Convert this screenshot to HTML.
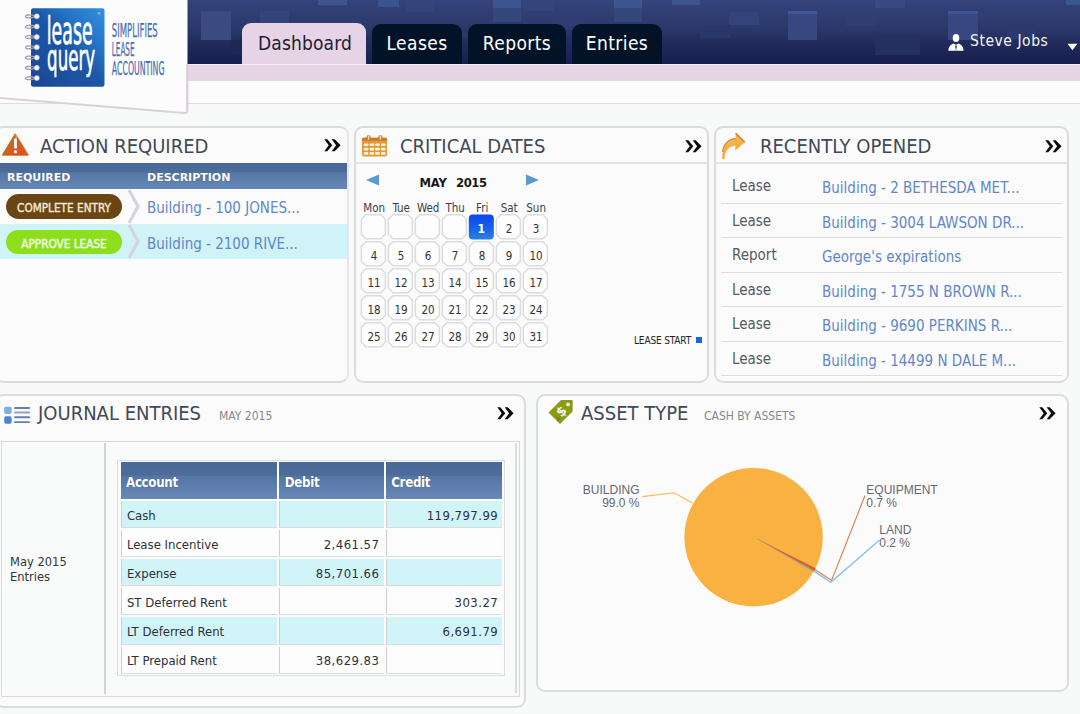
<!DOCTYPE html>
<html><head><meta charset="utf-8"><title>LeaseQuery Dashboard</title>
<style>
*{box-sizing:border-box;margin:0;padding:0}
html,body{width:1080px;height:714px;overflow:hidden}
body{position:relative;background:#f8f9f9;font-family:"DejaVu Sans Condensed","DejaVu Sans","Liberation Sans",sans-serif;color:#333}
.abs{position:absolute}
.hdr{position:absolute;left:0;top:0;width:1080px;height:64px;background:linear-gradient(#34437a 0%,#303e72 20%,#2b386b 45%,#222c5c 65%,#1b2454 85%,#161f4e 100%);overflow:hidden}
.hdr i{position:absolute;display:block}
.pink{position:absolute;left:0;top:64px;width:1080px;height:17px;background:#e6d4e6;border-top:1px solid #f4eef4}
.band{position:absolute;left:0;top:81px;width:1080px;height:22px;background:#fcfcfc}
.hline{position:absolute;left:0;top:103px;width:1080px;height:1px;background:#dedede}
.tab{position:absolute;top:24px;height:40px;border-radius:9px 9px 0 0;background:#021327;color:#fff;font-size:19px;letter-spacing:0.4px;line-height:1;text-align:center;padding-top:10px}
.tab.on{background:#e6d4e6;color:#1c2030;height:41px;top:23px;padding-top:11px}
.user{position:absolute;left:970px;top:34px;color:#f4f4f4;font-size:15.5px;letter-spacing:0.55px;line-height:1}
.panel{position:absolute;background:#fbfbfb;border:2px solid #dcdcdf;border-radius:9px}
.ptitle{position:absolute;font-size:20px;line-height:1;color:#414857;white-space:nowrap}
.more{position:absolute;font-family:"DejaVu Sans",sans-serif;font-weight:bold;font-size:19px;line-height:1;color:#000;letter-spacing:-3px}
.sep{position:absolute;height:2px;background:#e2e3e6}
.link{color:#6286ca}
.th{font-family:"DejaVu Sans",sans-serif;font-weight:bold;font-size:11px;line-height:1;color:#fff;text-shadow:0 0 1px rgba(40,50,80,.6)}
.pill{position:absolute;height:24.5px;border-radius:12.5px;font-size:11.7px;line-height:28.5px;text-align:center;white-space:nowrap;-webkit-text-stroke:0.35px currentColor}
.rlink{font-size:15px;line-height:1;white-space:nowrap}
.rtype{font-size:15px;line-height:1;color:#555a62;white-space:nowrap}
.dn{font-family:"DejaVu Sans Condensed",sans-serif;font-size:11.5px;fill:#3a3d48}
.dd{font-family:"DejaVu Sans Condensed",sans-serif;font-size:11.5px;fill:#333}
.dd1{font-family:"DejaVu Sans Condensed",sans-serif;font-size:12px;font-weight:bold;fill:#fff}
.jh{font-size:13.2px;font-weight:bold;color:#fff;line-height:1;letter-spacing:-0.3px;padding:14px 0 0 5.5px;background:linear-gradient(#4a6996 0%,#4c6c99 36%,#5677a6 38%,#5b7cab 60%,#6889b6 100%);text-shadow:0 0 1px rgba(40,50,80,.5)}
.jc{height:27.2px;font-size:13px;line-height:1;color:#2e3138;padding:7.5px 4.3px 0 5.4px;border-left:1.5px solid #cfcfcf;border-bottom:1.5px solid #dcdcdc;white-space:nowrap}
.sub{font-size:12px;line-height:1;color:#85888f;white-space:nowrap}
</style></head>
<body>
<!-- header -->
<div class="hdr"><i style="left:201px;top:11px;width:30px;height:29px;background:#3b4a80"></i><i style="left:260px;top:11px;width:29px;height:12px;background:#34447a"></i><i style="left:318px;top:0px;width:29px;height:5px;background:#3d5590"></i><i style="left:378px;top:0px;width:21px;height:7px;background:#3b5590"></i><i style="left:406px;top:0px;width:28px;height:12px;background:#34437a"></i><i style="left:493px;top:0px;width:28px;height:8px;background:#3a5590"></i><i style="left:493px;top:8px;width:28px;height:14px;background:#34467c"></i><i style="left:524px;top:0px;width:30px;height:11px;background:#35457c"></i><i style="left:614px;top:0px;width:28px;height:8px;background:#3a5590"></i><i style="left:614px;top:8px;width:28px;height:14px;background:#34467c"></i><i style="left:672px;top:0px;width:28px;height:5px;background:#3a5590"></i><i style="left:729px;top:12px;width:30px;height:13px;background:#34447a"></i><i style="left:788px;top:11px;width:29px;height:29px;background:#374880"></i><i style="left:788px;top:11px;width:29px;height:3px;background:#3e5896"></i><i style="left:875px;top:0px;width:30px;height:8px;background:#3a4a80"></i><i style="left:948px;top:11px;width:30px;height:29px;background:#374880"></i><i style="left:948px;top:11px;width:30px;height:3px;background:#3d5694"></i><i style="left:1066px;top:0px;width:14px;height:5px;background:#3a5590"></i><i style="left:875px;top:38px;width:45px;height:17px;background:#243060"></i><i style="left:231px;top:40px;width:30px;height:15px;background:#1e2858"></i><i style="left:700px;top:25px;width:30px;height:13px;background:#2a376a"></i><i style="left:846px;top:12px;width:29px;height:14px;background:#2f3d71"></i><i style="left:1007px;top:25px;width:29px;height:14px;background:#2b386b"></i><i style="left:555px;top:14px;width:30px;height:12px;background:#2f3d72"></i><i style="left:440px;top:25px;width:30px;height:12px;background:#2a3769"></i></div>
<div class="pink"></div>
<div class="band"></div>
<div class="hline"></div>

<div class="tab on" style="left:242px;width:124px;letter-spacing:0.15px;padding-left:2px">Dashboard</div>
<div class="tab" style="left:372px;width:90px">Leases</div>
<div class="tab" style="left:468px;width:98px">Reports</div>
<div class="tab" style="left:572px;width:90px">Entries</div>
<div class="user">Steve Jobs</div>
<!-- logo panel -->
<svg class="abs" style="left:0;top:0" width="192" height="118" viewBox="0 0 192 118">
  <path d="M0 0 L187.5 0 L187.5 110 Q187.5 113 184.5 113 L0 98 Z" fill="#fcfcfc"/>
  <path d="M0 98 L184.5 113 Q187.5 113 187.5 110 L187.5 64" fill="none" stroke="#dccfdc" stroke-width="1.8"/>
  <path d="M187 64 L187 110" stroke="#d2cad2" stroke-width="1.2"/>
</svg>
<svg class="abs" style="left:0;top:0" width="190" height="95" viewBox="0 0 190 95">
  <defs>
    <linearGradient id="lg" x1="1" y1="0" x2="0" y2="1">
      <stop offset="0" stop-color="#3390df"/><stop offset="0.3" stop-color="#2472c4"/><stop offset="0.5" stop-color="#1c56a6"/><stop offset="1" stop-color="#1a4894"/>
    </linearGradient>
  </defs>
  <rect x="31" y="8.3" width="73.5" height="78.5" rx="2.2" fill="url(#lg)"/>
  <text x="97" y="15" font-family="DejaVu Sans,sans-serif" font-size="4" fill="#cfe0f4">®</text>
  <g fill="none" stroke="#9a9ea6" stroke-width="1.3">
    <path d="M36 16.3 C30 14 25 15 25.5 16.8 C26 18.4 31 18.2 36 16.3"/>
    <path d="M36 26.6 C30 24.3 25 25.3 25.5 27.1 C26 28.7 31 28.5 36 26.6"/>
    <path d="M36 36.9 C30 34.6 25 35.6 25.5 37.4 C26 39 31 38.8 36 36.9"/>
    <path d="M36 47.2 C30 44.9 25 45.9 25.5 47.7 C26 49.3 31 49.1 36 47.2"/>
    <path d="M36 57.5 C30 55.2 25 56.2 25.5 58 C26 59.6 31 59.4 36 57.5"/>
    <path d="M36 67.8 C30 65.5 25 66.5 25.5 68.3 C26 69.9 31 69.7 36 67.8"/>
    <path d="M36 78.1 C30 75.8 25 76.8 25.5 78.6 C26 80.2 31 80 36 78.1"/>
  </g>
  <g fill="#f4f6f8" stroke="#c2c6cc" stroke-width=".6">
    <circle cx="36.8" cy="16.3" r="2.5"/><circle cx="36.8" cy="26.6" r="2.5"/><circle cx="36.8" cy="36.9" r="2.5"/><circle cx="36.8" cy="47.2" r="2.5"/><circle cx="36.8" cy="57.5" r="2.5"/><circle cx="36.8" cy="67.8" r="2.5"/><circle cx="36.8" cy="78.1" r="2.5"/>
  </g>
  <g font-family="DejaVu Sans Condensed,DejaVu Sans,sans-serif" fill="#ffffff" stroke="#ffffff" stroke-width="0.7">
    <text x="46.8" y="43.7" font-size="37" textLength="45.8" lengthAdjust="spacingAndGlyphs">lease</text>
    <text x="47.1" y="69.9" font-size="35" textLength="48.1" lengthAdjust="spacingAndGlyphs">query</text>
  </g>
  <g font-family="DejaVu Sans Condensed,DejaVu Sans,sans-serif" fill="#4a6eb0" stroke="#4a6eb0" stroke-width="0.25">
    <text x="111.8" y="36.8" font-size="19.3" textLength="45.9" lengthAdjust="spacingAndGlyphs">SIMPLIFIES</text>
    <text x="111.8" y="55.5" font-size="19.3" textLength="22.7" lengthAdjust="spacingAndGlyphs">LEASE</text>
    <text x="111.8" y="75" font-size="19.3" textLength="52.7" lengthAdjust="spacingAndGlyphs">ACCOUNTING</text>
  </g>
</svg>
<!-- user -->
<svg class="abs" style="left:946px;top:33px" width="20" height="20" viewBox="0 0 20 20">
  <ellipse cx="10" cy="5" rx="3.3" ry="3.9" fill="#fff"/>
  <path d="M2.4 17.8 C2.6 13.5 5 11.2 8 10.6 L10 12 L12 10.6 C15 11.2 17.4 13.5 17.6 17.8 Z" fill="#fff"/>
  <path d="M10 12 L9.2 13.2 L10 17.9 L10.8 13.2 Z" fill="#1f2a58"/>
</svg>
<svg class="abs" style="left:1066px;top:43px" width="13" height="9" viewBox="0 0 13 9">
  <path d="M1.5 0.8 L11.4 0.8 L6.45 7.3 Z" fill="#fff"/>
</svg>



<!-- ================= PANEL 1: ACTION REQUIRED ================= -->
<div class="panel" style="left:-6px;top:126px;width:355px;height:256.5px;border-right-color:#e6e6e8"></div>
<svg class="abs" style="left:1px;top:132px" width="29" height="25" viewBox="0 0 29 25">
  <path d="M14.2 1.8 L27.3 23 L1.4 23 Z" fill="#e0581c" stroke="#e0581c" stroke-width="0.9" stroke-linejoin="round"/>
  <path d="M14.2 1.8 L1.4 23 L6.2 23 L14.6 7.6 Z" fill="#bf6a1e"/>
  <path d="M14.2 1.8 L16.6 5.6 L14.6 7.6 Z" fill="#e9a232"/>
  <path d="M1.4 23 L27.3 23" stroke="#c85a20" stroke-width="0.8"/>
  <rect x="13" y="6.5" width="3" height="10" rx="1.2" fill="#fff"/>
  <rect x="13" y="18.3" width="3" height="3" rx="1" fill="#fff"/>
</svg>
<div class="ptitle" style="left:40px;top:136px">ACTION REQUIRED</div>
<svg class="abs" style="left:324.2px;top:139.2px" width="18" height="13" viewBox="0 0 18 13"><path d="M0.3 0.2 L3.3 0.2 L8.3 6.2 L3.3 12.2 L0.3 12.2 L4.7 6.2 Z M7.7 0.2 L10.7 0.2 L16.6 6.2 L10.7 12.2 L7.7 12.2 L12.1 6.2 Z" fill="#0a0a12"/></svg>
<div class="abs" style="left:-6px;top:163px;width:353px;height:26px;background:linear-gradient(#4a6996 0%,#4c6c99 35%,#5577a6 37%,#5b7dab 60%,#6788b5 100%)"></div>
<div class="abs th" style="left:7px;top:172px">REQUIRED</div>
<div class="abs th" style="left:147px;top:172px">DESCRIPTION</div>
<div class="abs" style="left:-6px;top:224px;width:353px;height:35px;background:#d0f3f7"></div>
<div class="pill" style="left:6px;top:194px;width:116px;background:#6b4513;color:#f3ead8">COMPLETE ENTRY</div>
<div class="pill" style="left:6px;top:229.5px;width:116px;background:#8ddf1c;color:#f4ffe6">APPROVE LEASE</div>
<svg class="abs" style="left:126px;top:189px" width="18" height="71" viewBox="0 0 18 71">
  <path d="M3 1 L12 17.5 L3 34" fill="none" stroke="#d8d3dc" stroke-width="3.2"/>
  <path d="M3 36 L12 52.5 L3 69" fill="none" stroke="#d4d4da" stroke-width="3.2"/>
</svg>
<div class="abs link rlink" style="left:147px;top:201px">Building - 100 JONES...</div>
<div class="abs link rlink" style="left:147px;top:236.5px">Building - 2100 RIVE...</div>

<!-- ================= PANEL 2: CRITICAL DATES ================= -->
<div class="panel" style="left:354px;top:126px;width:354.5px;height:256.5px"></div>
<div class="sep" style="left:356px;top:162px;width:350.5px"></div>
<div class="ptitle" style="left:400px;top:136px">CRITICAL DATES</div>
<svg class="abs" style="left:361px;top:134px" width="27" height="23" viewBox="0 0 27 23">
  <rect x="1" y="3.8" width="25" height="18.7" rx="1.8" fill="#e29a36"/>
  <rect x="1" y="3.8" width="25" height="3" rx="1.2" fill="#c67c2c"/>
  <circle cx="7.6" cy="3.2" r="2.1" fill="#c67c2c"/><circle cx="19.4" cy="3.2" r="2.1" fill="#c67c2c"/>
  <rect x="6.8" y="1.4" width="1.6" height="4.2" fill="#f4d7a8"/><rect x="18.6" y="1.4" width="1.6" height="4.2" fill="#f4d7a8"/>
  <g fill="#fbf1e2">
   <rect x="2.8" y="9.5" width="4.6" height="2.6" rx=".8"/><rect x="8.6" y="9.5" width="4.6" height="2.6" rx=".8"/><rect x="14.2" y="9.5" width="4.6" height="2.6" rx=".8"/><rect x="20" y="9.5" width="4.6" height="2.6" rx=".8"/>
   <rect x="2.8" y="13.8" width="4.6" height="2.6" rx=".8"/><rect x="8.6" y="13.8" width="4.6" height="2.6" rx=".8"/><rect x="14.2" y="13.8" width="4.6" height="2.6" rx=".8"/><rect x="20" y="13.8" width="4.6" height="2.6" rx=".8"/>
   <rect x="2.8" y="18.1" width="4.6" height="2.6" rx=".8"/><rect x="8.6" y="18.1" width="4.6" height="2.6" rx=".8"/><rect x="14.2" y="18.1" width="4.6" height="2.6" rx=".8"/><rect x="20" y="18.1" width="4.6" height="2.6" rx=".8"/>
  </g>
</svg>
<svg class="abs" style="left:365px;top:174px" width="176" height="13" viewBox="0 0 176 13">
  <path d="M1 6 L14 0.6 L14 11.6 Z" fill="#5a9ad0"/>
  <path d="M174 6 L161 0.6 L161 11.6 Z" fill="#5a9ad0"/>
</svg>
<div class="abs" style="left:419.5px;top:177.5px;font-family:'DejaVu Sans',sans-serif;font-weight:bold;font-size:11.6px;line-height:1;color:#1a1a1a;white-space:nowrap;letter-spacing:-0.2px">MAY</div><div class="abs" style="left:456px;top:177.5px;font-family:'DejaVu Sans',sans-serif;font-weight:bold;font-size:11.6px;line-height:1;color:#1a1a1a;white-space:nowrap;letter-spacing:-0.4px">2015</div>
<svg class="abs" style="left:356px;top:195px" width="200" height="160" viewBox="0 0 200 160">
<defs><linearGradient id="gb" x1="0" y1="0" x2="0" y2="1"><stop offset="0" stop-color="#0b45ef"/><stop offset="0.5" stop-color="#1560ea"/><stop offset="1" stop-color="#2a80e0"/></linearGradient></defs>
<text x="17.35" y="16" text-anchor="middle" class="dn" dx="0.8" dy="0.6">Mon</text>
<text x="44.35" y="16" text-anchor="middle" class="dn" dx="0.8" dy="0.6">Tue</text>
<text x="71.35" y="16" text-anchor="middle" class="dn" dx="0.8" dy="0.6">Wed</text>
<text x="98.35" y="16" text-anchor="middle" class="dn" dx="0.8" dy="0.6">Thu</text>
<text x="125.35" y="16" text-anchor="middle" class="dn" dx="0.8" dy="0.6">Fri</text>
<text x="152.35" y="16" text-anchor="middle" class="dn" dx="0.8" dy="0.6">Sat</text>
<text x="179.35" y="16" text-anchor="middle" class="dn" dx="0.8" dy="0.6">Sun</text>
<polygon points="9.85,19.75 24.85,19.75 29.35,24.25 29.35,39.25 24.85,43.75 9.85,43.75 5.35,39.25 5.35,24.25" fill="#fdfdfd" stroke="#dcdcdf" stroke-width="1.5"/>
<polygon points="36.85,19.75 51.85,19.75 56.35,24.25 56.35,39.25 51.85,43.75 36.85,43.75 32.35,39.25 32.35,24.25" fill="#fdfdfd" stroke="#dcdcdf" stroke-width="1.5"/>
<polygon points="63.85,19.75 78.85,19.75 83.35,24.25 83.35,39.25 78.85,43.75 63.85,43.75 59.35,39.25 59.35,24.25" fill="#fdfdfd" stroke="#dcdcdf" stroke-width="1.5"/>
<polygon points="90.85,19.75 105.85,19.75 110.35,24.25 110.35,39.25 105.85,43.75 90.85,43.75 86.35,39.25 86.35,24.25" fill="#fdfdfd" stroke="#dcdcdf" stroke-width="1.5"/>
<rect x="112.80" y="19.50" width="25.0" height="25.0" rx="4" fill="url(#gb)"/>
<text x="125.35" y="36.00" text-anchor="middle" class="dd1" dy="1.5">1</text>
<polygon points="144.85,19.75 159.85,19.75 164.35,24.25 164.35,39.25 159.85,43.75 144.85,43.75 140.35,39.25 140.35,24.25" fill="#fdfdfd" stroke="#dcdcdf" stroke-width="1.5"/>
<text x="152.35" y="36.00" text-anchor="middle" class="dd" dy="1.5" dx="0.7">2</text>
<polygon points="171.85,19.75 186.85,19.75 191.35,24.25 191.35,39.25 186.85,43.75 171.85,43.75 167.35,39.25 167.35,24.25" fill="#fdfdfd" stroke="#dcdcdf" stroke-width="1.5"/>
<text x="179.35" y="36.00" text-anchor="middle" class="dd" dy="1.5" dx="0.7">3</text>
<polygon points="9.85,46.75 24.85,46.75 29.35,51.25 29.35,66.25 24.85,70.75 9.85,70.75 5.35,66.25 5.35,51.25" fill="#fdfdfd" stroke="#dcdcdf" stroke-width="1.5"/>
<text x="17.35" y="63.00" text-anchor="middle" class="dd" dy="1.5" dx="0.7">4</text>
<polygon points="36.85,46.75 51.85,46.75 56.35,51.25 56.35,66.25 51.85,70.75 36.85,70.75 32.35,66.25 32.35,51.25" fill="#fdfdfd" stroke="#dcdcdf" stroke-width="1.5"/>
<text x="44.35" y="63.00" text-anchor="middle" class="dd" dy="1.5" dx="0.7">5</text>
<polygon points="63.85,46.75 78.85,46.75 83.35,51.25 83.35,66.25 78.85,70.75 63.85,70.75 59.35,66.25 59.35,51.25" fill="#fdfdfd" stroke="#dcdcdf" stroke-width="1.5"/>
<text x="71.35" y="63.00" text-anchor="middle" class="dd" dy="1.5" dx="0.7">6</text>
<polygon points="90.85,46.75 105.85,46.75 110.35,51.25 110.35,66.25 105.85,70.75 90.85,70.75 86.35,66.25 86.35,51.25" fill="#fdfdfd" stroke="#dcdcdf" stroke-width="1.5"/>
<text x="98.35" y="63.00" text-anchor="middle" class="dd" dy="1.5" dx="0.7">7</text>
<polygon points="117.85,46.75 132.85,46.75 137.35,51.25 137.35,66.25 132.85,70.75 117.85,70.75 113.35,66.25 113.35,51.25" fill="#fdfdfd" stroke="#dcdcdf" stroke-width="1.5"/>
<text x="125.35" y="63.00" text-anchor="middle" class="dd" dy="1.5" dx="0.7">8</text>
<polygon points="144.85,46.75 159.85,46.75 164.35,51.25 164.35,66.25 159.85,70.75 144.85,70.75 140.35,66.25 140.35,51.25" fill="#fdfdfd" stroke="#dcdcdf" stroke-width="1.5"/>
<text x="152.35" y="63.00" text-anchor="middle" class="dd" dy="1.5" dx="0.7">9</text>
<polygon points="171.85,46.75 186.85,46.75 191.35,51.25 191.35,66.25 186.85,70.75 171.85,70.75 167.35,66.25 167.35,51.25" fill="#fdfdfd" stroke="#dcdcdf" stroke-width="1.5"/>
<text x="179.35" y="63.00" text-anchor="middle" class="dd" dy="1.5" dx="0.7">10</text>
<polygon points="9.85,73.75 24.85,73.75 29.35,78.25 29.35,93.25 24.85,97.75 9.85,97.75 5.35,93.25 5.35,78.25" fill="#fdfdfd" stroke="#dcdcdf" stroke-width="1.5"/>
<text x="17.35" y="90.00" text-anchor="middle" class="dd" dy="1.5" dx="0.7">11</text>
<polygon points="36.85,73.75 51.85,73.75 56.35,78.25 56.35,93.25 51.85,97.75 36.85,97.75 32.35,93.25 32.35,78.25" fill="#fdfdfd" stroke="#dcdcdf" stroke-width="1.5"/>
<text x="44.35" y="90.00" text-anchor="middle" class="dd" dy="1.5" dx="0.7">12</text>
<polygon points="63.85,73.75 78.85,73.75 83.35,78.25 83.35,93.25 78.85,97.75 63.85,97.75 59.35,93.25 59.35,78.25" fill="#fdfdfd" stroke="#dcdcdf" stroke-width="1.5"/>
<text x="71.35" y="90.00" text-anchor="middle" class="dd" dy="1.5" dx="0.7">13</text>
<polygon points="90.85,73.75 105.85,73.75 110.35,78.25 110.35,93.25 105.85,97.75 90.85,97.75 86.35,93.25 86.35,78.25" fill="#fdfdfd" stroke="#dcdcdf" stroke-width="1.5"/>
<text x="98.35" y="90.00" text-anchor="middle" class="dd" dy="1.5" dx="0.7">14</text>
<polygon points="117.85,73.75 132.85,73.75 137.35,78.25 137.35,93.25 132.85,97.75 117.85,97.75 113.35,93.25 113.35,78.25" fill="#fdfdfd" stroke="#dcdcdf" stroke-width="1.5"/>
<text x="125.35" y="90.00" text-anchor="middle" class="dd" dy="1.5" dx="0.7">15</text>
<polygon points="144.85,73.75 159.85,73.75 164.35,78.25 164.35,93.25 159.85,97.75 144.85,97.75 140.35,93.25 140.35,78.25" fill="#fdfdfd" stroke="#dcdcdf" stroke-width="1.5"/>
<text x="152.35" y="90.00" text-anchor="middle" class="dd" dy="1.5" dx="0.7">16</text>
<polygon points="171.85,73.75 186.85,73.75 191.35,78.25 191.35,93.25 186.85,97.75 171.85,97.75 167.35,93.25 167.35,78.25" fill="#fdfdfd" stroke="#dcdcdf" stroke-width="1.5"/>
<text x="179.35" y="90.00" text-anchor="middle" class="dd" dy="1.5" dx="0.7">17</text>
<polygon points="9.85,100.75 24.85,100.75 29.35,105.25 29.35,120.25 24.85,124.75 9.85,124.75 5.35,120.25 5.35,105.25" fill="#fdfdfd" stroke="#dcdcdf" stroke-width="1.5"/>
<text x="17.35" y="117.00" text-anchor="middle" class="dd" dy="1.5" dx="0.7">18</text>
<polygon points="36.85,100.75 51.85,100.75 56.35,105.25 56.35,120.25 51.85,124.75 36.85,124.75 32.35,120.25 32.35,105.25" fill="#fdfdfd" stroke="#dcdcdf" stroke-width="1.5"/>
<text x="44.35" y="117.00" text-anchor="middle" class="dd" dy="1.5" dx="0.7">19</text>
<polygon points="63.85,100.75 78.85,100.75 83.35,105.25 83.35,120.25 78.85,124.75 63.85,124.75 59.35,120.25 59.35,105.25" fill="#fdfdfd" stroke="#dcdcdf" stroke-width="1.5"/>
<text x="71.35" y="117.00" text-anchor="middle" class="dd" dy="1.5" dx="0.7">20</text>
<polygon points="90.85,100.75 105.85,100.75 110.35,105.25 110.35,120.25 105.85,124.75 90.85,124.75 86.35,120.25 86.35,105.25" fill="#fdfdfd" stroke="#dcdcdf" stroke-width="1.5"/>
<text x="98.35" y="117.00" text-anchor="middle" class="dd" dy="1.5" dx="0.7">21</text>
<polygon points="117.85,100.75 132.85,100.75 137.35,105.25 137.35,120.25 132.85,124.75 117.85,124.75 113.35,120.25 113.35,105.25" fill="#fdfdfd" stroke="#dcdcdf" stroke-width="1.5"/>
<text x="125.35" y="117.00" text-anchor="middle" class="dd" dy="1.5" dx="0.7">22</text>
<polygon points="144.85,100.75 159.85,100.75 164.35,105.25 164.35,120.25 159.85,124.75 144.85,124.75 140.35,120.25 140.35,105.25" fill="#fdfdfd" stroke="#dcdcdf" stroke-width="1.5"/>
<text x="152.35" y="117.00" text-anchor="middle" class="dd" dy="1.5" dx="0.7">23</text>
<polygon points="171.85,100.75 186.85,100.75 191.35,105.25 191.35,120.25 186.85,124.75 171.85,124.75 167.35,120.25 167.35,105.25" fill="#fdfdfd" stroke="#dcdcdf" stroke-width="1.5"/>
<text x="179.35" y="117.00" text-anchor="middle" class="dd" dy="1.5" dx="0.7">24</text>
<polygon points="9.85,127.75 24.85,127.75 29.35,132.25 29.35,147.25 24.85,151.75 9.85,151.75 5.35,147.25 5.35,132.25" fill="#fdfdfd" stroke="#dcdcdf" stroke-width="1.5"/>
<text x="17.35" y="144.00" text-anchor="middle" class="dd" dy="1.5" dx="0.7">25</text>
<polygon points="36.85,127.75 51.85,127.75 56.35,132.25 56.35,147.25 51.85,151.75 36.85,151.75 32.35,147.25 32.35,132.25" fill="#fdfdfd" stroke="#dcdcdf" stroke-width="1.5"/>
<text x="44.35" y="144.00" text-anchor="middle" class="dd" dy="1.5" dx="0.7">26</text>
<polygon points="63.85,127.75 78.85,127.75 83.35,132.25 83.35,147.25 78.85,151.75 63.85,151.75 59.35,147.25 59.35,132.25" fill="#fdfdfd" stroke="#dcdcdf" stroke-width="1.5"/>
<text x="71.35" y="144.00" text-anchor="middle" class="dd" dy="1.5" dx="0.7">27</text>
<polygon points="90.85,127.75 105.85,127.75 110.35,132.25 110.35,147.25 105.85,151.75 90.85,151.75 86.35,147.25 86.35,132.25" fill="#fdfdfd" stroke="#dcdcdf" stroke-width="1.5"/>
<text x="98.35" y="144.00" text-anchor="middle" class="dd" dy="1.5" dx="0.7">28</text>
<polygon points="117.85,127.75 132.85,127.75 137.35,132.25 137.35,147.25 132.85,151.75 117.85,151.75 113.35,147.25 113.35,132.25" fill="#fdfdfd" stroke="#dcdcdf" stroke-width="1.5"/>
<text x="125.35" y="144.00" text-anchor="middle" class="dd" dy="1.5" dx="0.7">29</text>
<polygon points="144.85,127.75 159.85,127.75 164.35,132.25 164.35,147.25 159.85,151.75 144.85,151.75 140.35,147.25 140.35,132.25" fill="#fdfdfd" stroke="#dcdcdf" stroke-width="1.5"/>
<text x="152.35" y="144.00" text-anchor="middle" class="dd" dy="1.5" dx="0.7">30</text>
<polygon points="171.85,127.75 186.85,127.75 191.35,132.25 191.35,147.25 186.85,151.75 171.85,151.75 167.35,147.25 167.35,132.25" fill="#fdfdfd" stroke="#dcdcdf" stroke-width="1.5"/>
<text x="179.35" y="144.00" text-anchor="middle" class="dd" dy="1.5" dx="0.7">31</text>
</svg>
<div class="abs" style="left:634px;top:336.3px;font-size:10px;line-height:1;color:#222;letter-spacing:-0.15px;white-space:nowrap">LEASE START</div>
<div class="abs" style="left:695.5px;top:336.8px;width:6px;height:6px;background:#1565ee"></div>

<svg class="abs" style="left:684.8px;top:139.5px" width="18" height="13" viewBox="0 0 18 13"><path d="M0.3 0.2 L3.3 0.2 L8.3 6.2 L3.3 12.2 L0.3 12.2 L4.7 6.2 Z M7.7 0.2 L10.7 0.2 L16.6 6.2 L10.7 12.2 L7.7 12.2 L12.1 6.2 Z" fill="#0a0a12"/></svg>

<!-- ================= PANEL 3: RECENTLY OPENED ================= -->
<div class="panel" style="left:714px;top:126px;width:355px;height:256.5px"></div>
<div class="sep" style="left:716px;top:162px;width:351px"></div>
<div class="ptitle" style="left:760px;top:136px">RECENTLY OPENED</div>
<svg class="abs" style="left:718px;top:130px" width="30" height="32" viewBox="0 0 30 32">
  <defs><linearGradient id="ga" x1="0" y1="0" x2="0" y2="1"><stop offset="0" stop-color="#f7b84a"/><stop offset="1" stop-color="#f2a93a"/></linearGradient></defs>
  <path d="M18.2 8.6 C10.5 8.6 4.6 13.5 4.3 29.2 L6.4 29.2 C7.2 20.5 10.5 16.2 18 15.6 Z" fill="url(#ga)"/>
  <path d="M18.2 8.6 C11 8.8 5.6 13.5 4.6 22" fill="none" stroke="#c98a2c" stroke-width="1.2"/>
  <path d="M17.7 3.4 L26.9 12.3 L17.3 20.6 Z" fill="url(#ga)"/>
  <path d="M17.7 3.4 L26.9 12.3" stroke="#c48a35" stroke-width="1.6"/>
</svg>
<div class="abs rtype" style="left:732px;top:179.0px">Lease</div><div class="abs link rlink" style="left:822px;top:181.0px">Building - 2 BETHESDA MET...</div>
<div class="abs rtype" style="left:732px;top:213.5px">Lease</div><div class="abs link rlink" style="left:822px;top:215.5px">Building - 3004 LAWSON DR...</div>
<div class="abs rtype" style="left:732px;top:248.0px">Report</div><div class="abs link rlink" style="left:822px;top:250.0px">George's expirations</div>
<div class="abs rtype" style="left:732px;top:282.5px">Lease</div><div class="abs link rlink" style="left:822px;top:284.5px">Building - 1755 N BROWN R...</div>
<div class="abs rtype" style="left:732px;top:317.0px">Lease</div><div class="abs link rlink" style="left:822px;top:319.0px">Building - 9690 PERKINS R...</div>
<div class="abs rtype" style="left:732px;top:351.5px">Lease</div><div class="abs link rlink" style="left:822px;top:353.5px">Building - 14499 N DALE M...</div>
<div class="abs" style="left:721px;top:202.7px;width:341px;height:1px;background:#dcdee3"></div>
<div class="abs" style="left:721px;top:237.1px;width:341px;height:1px;background:#dcdee3"></div>
<div class="abs" style="left:721px;top:271.5px;width:341px;height:1px;background:#dcdee3"></div>
<div class="abs" style="left:721px;top:306.0px;width:341px;height:1px;background:#dcdee3"></div>
<div class="abs" style="left:721px;top:340.6px;width:341px;height:1px;background:#dcdee3"></div>
<div class="abs" style="left:721px;top:375.3px;width:341px;height:1px;background:#dcdee3"></div>

<svg class="abs" style="left:1044.6px;top:139.6px" width="18" height="13" viewBox="0 0 18 13"><path d="M0.3 0.2 L3.3 0.2 L8.3 6.2 L3.3 12.2 L0.3 12.2 L4.7 6.2 Z M7.7 0.2 L10.7 0.2 L16.6 6.2 L10.7 12.2 L7.7 12.2 L12.1 6.2 Z" fill="#0a0a12"/></svg>

<!-- ================= PANEL 4: JOURNAL ENTRIES ================= -->
<div class="panel" style="left:-6px;top:393.5px;width:532px;height:314.5px"></div>
<div class="ptitle" style="left:38px;top:403px">JOURNAL ENTRIES</div>
<svg class="abs" style="left:3px;top:405px" width="29" height="21" viewBox="0 0 29 21">
  <rect x="1.2" y="1.7" width="7.4" height="7.2" rx="1.8" fill="#7eaee2"/>
  <rect x="1.2" y="11.2" width="7.4" height="7.5" rx="1.8" fill="#4d84cf"/>
  <g fill="#6280b5"><rect x="11.1" y="2" width="16" height="1.9" rx=".9"/><rect x="11.1" y="6.5" width="16" height="1.9" rx=".9" fill="#8aa4cc"/><rect x="11.1" y="11.3" width="16" height="1.9" rx=".9"/><rect x="11.1" y="16.2" width="16" height="1.9" rx=".9"/></g>
</svg>
<div class="abs sub" style="left:219px;top:410px">MAY 2015</div>
<div class="abs" style="left:1px;top:440.5px;width:518.5px;height:256px;border:1.5px solid #dadada;border-top-color:#d6d6d6;background:#f9fafa;box-shadow:inset 0 1px 0 #fff"></div>
<div class="abs" style="left:103.5px;top:443px;width:2px;height:251px;background:#d3d3d3"></div>
<div class="abs" style="left:514.5px;top:443px;width:2px;height:250px;background:#dcdcdc"></div>
<div class="abs" style="left:10px;top:554px;font-size:12.8px;line-height:15px;color:#33363d">May 2015<br>Entries</div>
<div class="abs" style="left:117.4px;top:459.7px;width:387.4px;height:216.5px;border:1px solid #dedede;background:#fcfcfc"></div>
<div class="abs jh" style="left:120.5px;top:462px;width:156.5px;height:37.4px">Account</div>
<div class="abs jh" style="left:279.3px;top:462px;width:104.4px;height:37.4px">Debit</div>
<div class="abs jh" style="left:385.7px;top:462px;width:116.8px;height:37.4px">Credit</div>
<div class="abs jc" style="left:120.5px;top:501.0px;width:156.5px;background:#d0f4f8;text-align:left">Cash</div>
<div class="abs jc" style="left:279.3px;top:501.0px;width:104.4px;background:#d0f4f8;text-align:right;letter-spacing:0.45px"></div>
<div class="abs jc" style="left:385.7px;top:501.0px;width:116.8px;background:#d0f4f8;text-align:right;letter-spacing:0.45px">119,797.99</div>
<div class="abs jc" style="left:120.5px;top:530.1px;width:156.5px;background:#fdfdfd;text-align:left">Lease Incentive</div>
<div class="abs jc" style="left:279.3px;top:530.1px;width:104.4px;background:#fdfdfd;text-align:right;letter-spacing:0.45px">2,461.57</div>
<div class="abs jc" style="left:385.7px;top:530.1px;width:116.8px;background:#fdfdfd;text-align:right;letter-spacing:0.45px"></div>
<div class="abs jc" style="left:120.5px;top:559.2px;width:156.5px;background:#d0f4f8;text-align:left">Expense</div>
<div class="abs jc" style="left:279.3px;top:559.2px;width:104.4px;background:#d0f4f8;text-align:right;letter-spacing:0.45px">85,701.66</div>
<div class="abs jc" style="left:385.7px;top:559.2px;width:116.8px;background:#d0f4f8;text-align:right;letter-spacing:0.45px"></div>
<div class="abs jc" style="left:120.5px;top:588.3px;width:156.5px;background:#fdfdfd;text-align:left">ST Deferred Rent</div>
<div class="abs jc" style="left:279.3px;top:588.3px;width:104.4px;background:#fdfdfd;text-align:right;letter-spacing:0.45px"></div>
<div class="abs jc" style="left:385.7px;top:588.3px;width:116.8px;background:#fdfdfd;text-align:right;letter-spacing:0.45px">303.27</div>
<div class="abs jc" style="left:120.5px;top:617.4px;width:156.5px;background:#d0f4f8;text-align:left">LT Deferred Rent</div>
<div class="abs jc" style="left:279.3px;top:617.4px;width:104.4px;background:#d0f4f8;text-align:right;letter-spacing:0.45px"></div>
<div class="abs jc" style="left:385.7px;top:617.4px;width:116.8px;background:#d0f4f8;text-align:right;letter-spacing:0.45px">6,691.79</div>
<div class="abs jc" style="left:120.5px;top:646.5px;width:156.5px;background:#fdfdfd;text-align:left">LT Prepaid Rent</div>
<div class="abs jc" style="left:279.3px;top:646.5px;width:104.4px;background:#fdfdfd;text-align:right;letter-spacing:0.45px">38,629.83</div>
<div class="abs jc" style="left:385.7px;top:646.5px;width:116.8px;background:#fdfdfd;text-align:right;letter-spacing:0.45px"></div>

<svg class="abs" style="left:497px;top:407px" width="18" height="13" viewBox="0 0 18 13"><path d="M0.3 0.2 L3.3 0.2 L8.3 6.2 L3.3 12.2 L0.3 12.2 L4.7 6.2 Z M7.7 0.2 L10.7 0.2 L16.6 6.2 L10.7 12.2 L7.7 12.2 L12.1 6.2 Z" fill="#0a0a12"/></svg>

<!-- ================= PANEL 5: ASSET TYPE ================= -->
<div class="panel" style="left:536px;top:393.5px;width:533px;height:298.5px"></div>
<div class="ptitle" style="left:581px;top:403px">ASSET TYPE</div>
<svg class="abs" style="left:547px;top:398px" width="28" height="28" viewBox="0 0 28 28">
  <path d="M25.2 2.5 L14 2.6 L2 14.5 L13 25.5 L25.1 13.4 Z" fill="#8a9c12" stroke="#7c8c0e" stroke-width="0.8" stroke-linejoin="round"/>
  <circle cx="21" cy="6.4" r="1.9" fill="#f2f2e8"/>
  <g fill="#8c5a22" opacity=".85"><rect x="9.5" y="19" width="1.4" height="1.4"/><rect x="11.5" y="20" width="1.4" height="1.4"/><rect x="10.2" y="21.6" width="1.4" height="1.4"/><rect x="12.6" y="17.8" width="1.2" height="1.2"/></g>
  <text x="0" y="0" transform="translate(14.2 13.4) rotate(-45)" font-family="DejaVu Sans,sans-serif" font-weight="bold" font-size="13" fill="#f6f2ea" text-anchor="middle" dominant-baseline="central">$</text>
</svg>
<div class="abs sub" style="left:704px;top:410px">CASH BY ASSETS</div><svg class="abs" style="left:560px;top:440px" width="420" height="200" viewBox="0 0 420 200">
<circle cx="193.60" cy="97.20" r="69.2" fill="#f9b142"/>
<path d="M196.60 98.40 L255.85 128.59 A66.5 66.5 0 0 1 254.54 131.05 Z" fill="#df5a1c"/>
<path d="M196.60 98.40 L254.54 131.05 A66.5 66.5 0 0 1 254.07 131.85 Z" fill="#6aaee2"/>
<path d="M196.60 98.40 L254.07 131.85" stroke="#8a8f9a" stroke-width="0.7" opacity=".7"/>
<polyline points="82.39999999999998,56.60000000000002 114,52.69999999999999 132.5,63" fill="none" stroke="#f6b850" stroke-width="1.1"/>
<polyline points="255.21,129.82 271.6,140.5 305,55.5" fill="none" stroke="#e07a4a" stroke-width="1.1"/>
<polyline points="254.31,131.45 270.79999999999995,142.29999999999995 319.5,100" fill="none" stroke="#86c2ee" stroke-width="1.4"/>
<g font-family="Liberation Sans, sans-serif" font-size="12" fill="#646875">
<text x="79.5" y="54.0" text-anchor="end">BUILDING</text>
<text x="79.5" y="66.9" text-anchor="end">99.0 %</text>
<text x="306.3" y="53.9">EQUIPMENT</text>
<text x="306.3" y="66.8">0.7 %</text>
<text x="319.3" y="94.3">LAND</text>
<text x="319.3" y="107.2">0.2 %</text>
</g>
</svg>
<svg class="abs" style="left:1039.2px;top:407px" width="18" height="13" viewBox="0 0 18 13"><path d="M0.3 0.2 L3.3 0.2 L8.3 6.2 L3.3 12.2 L0.3 12.2 L4.7 6.2 Z M7.7 0.2 L10.7 0.2 L16.6 6.2 L10.7 12.2 L7.7 12.2 L12.1 6.2 Z" fill="#0a0a12"/></svg>

</body></html>
